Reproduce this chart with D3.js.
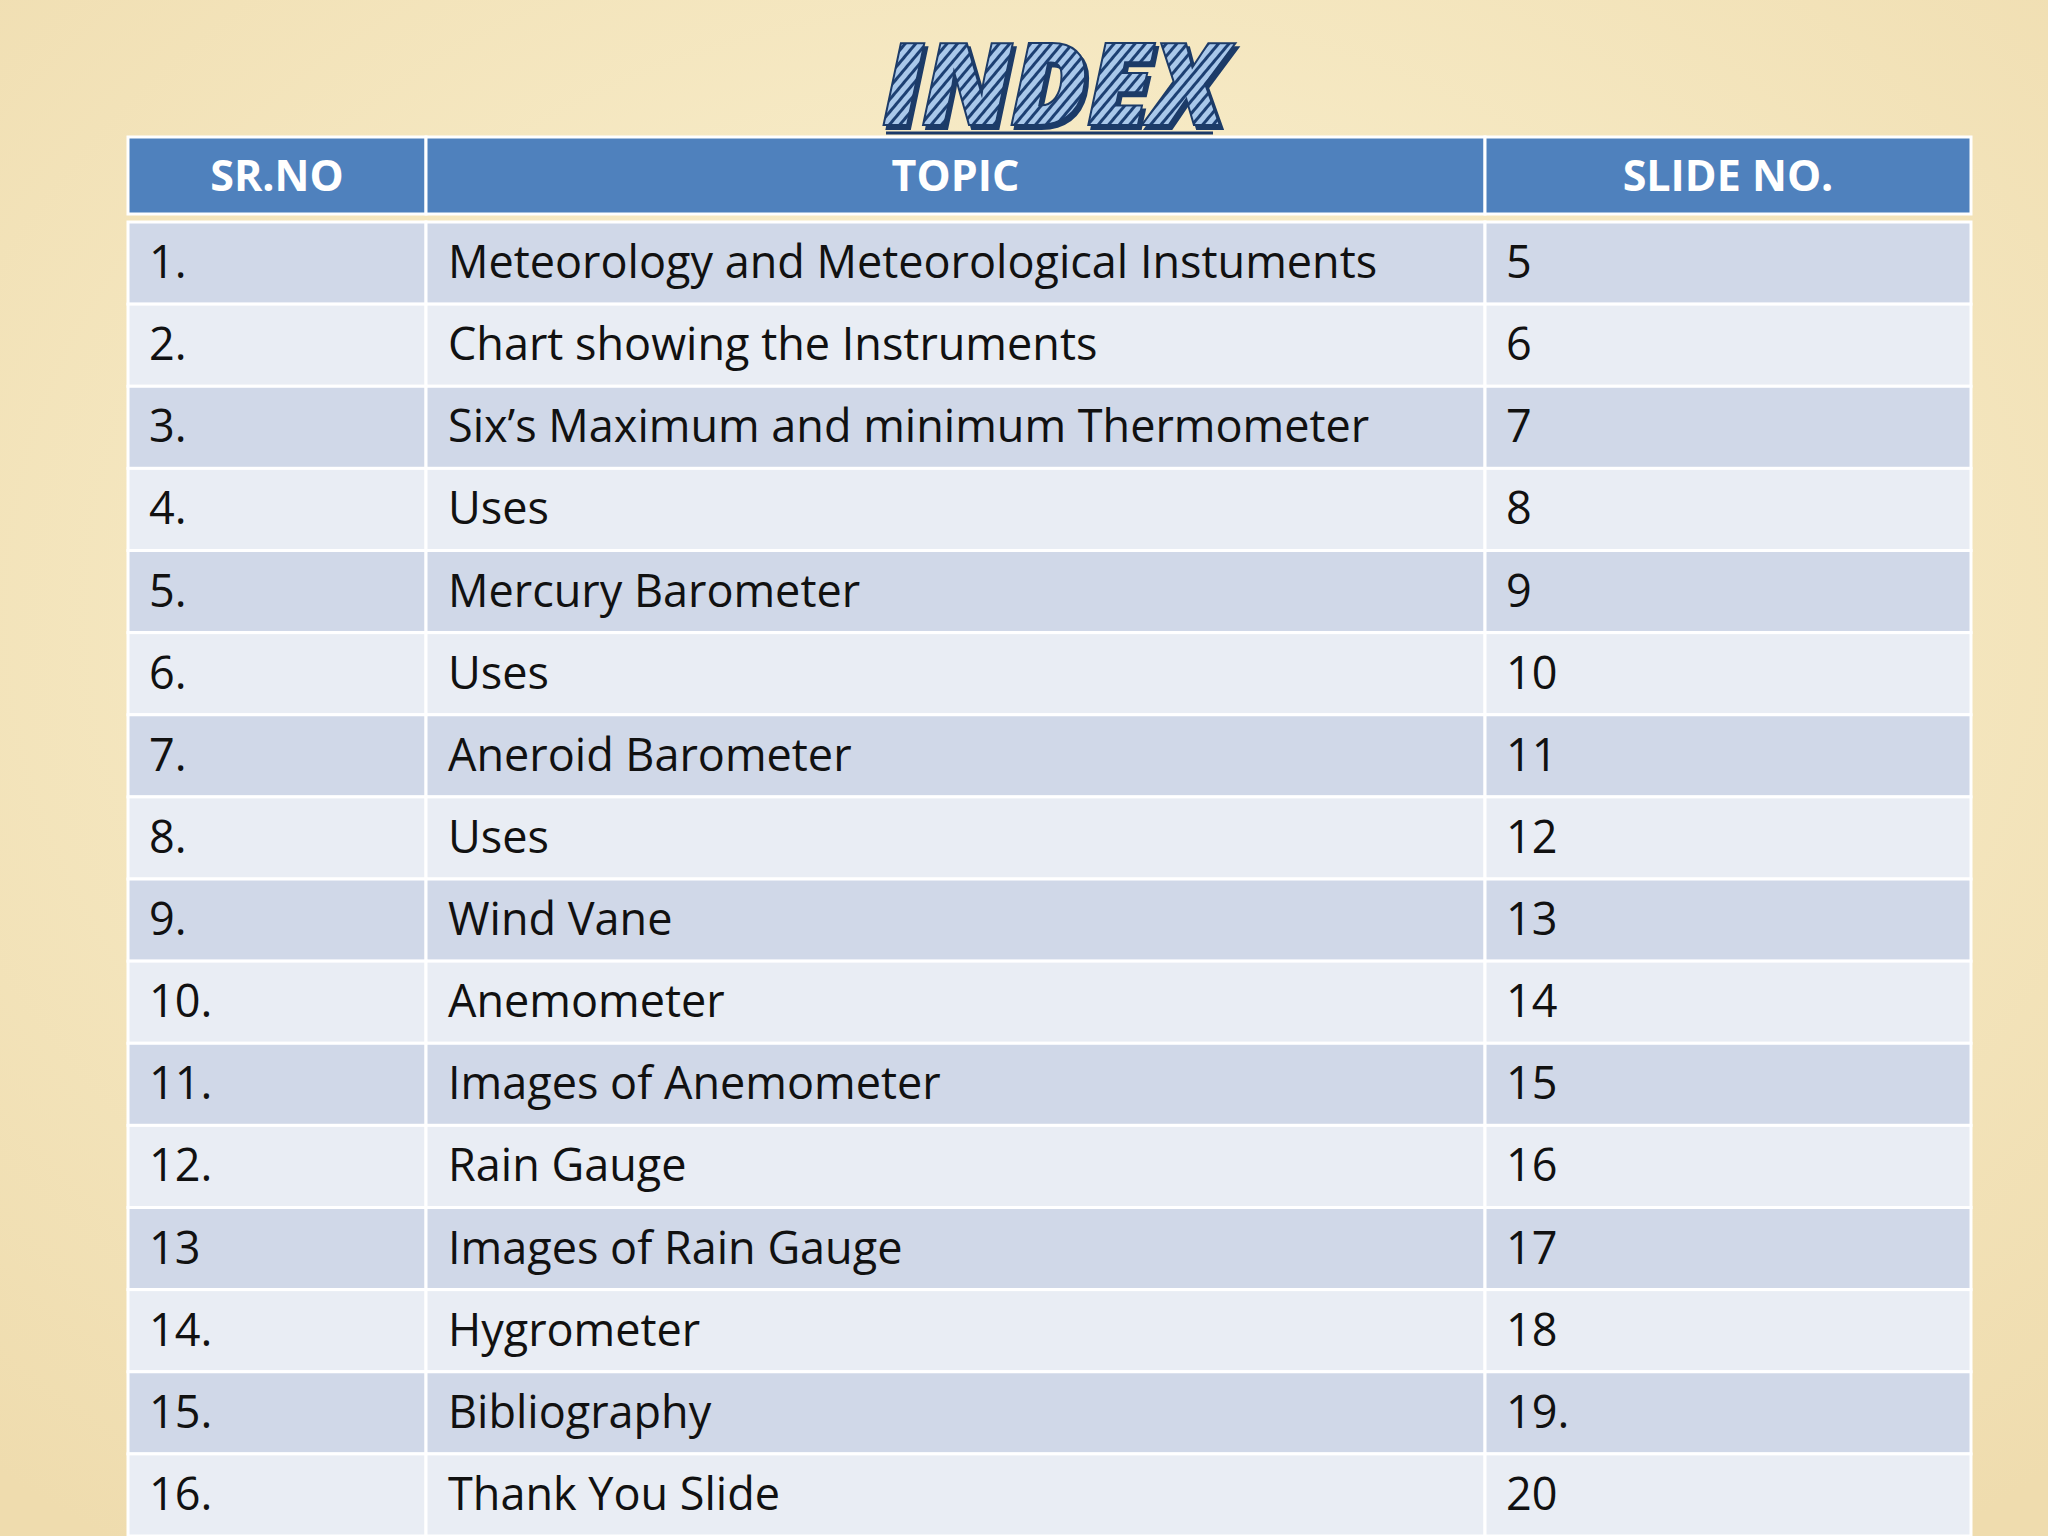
<!DOCTYPE html><html><head><meta charset="utf-8"><script src="https://cdn.jsdelivr.net/npm/d3@7"></script>
<style>body{margin:0;overflow:hidden}svg{display:block}</style></head><body><svg id="c" width="2048" height="1536"></svg>
<script>
const headers=["SR.NO","TOPIC","SLIDE NO."];
const srNo=["1.","2.","3.","4.","5.","6.","7.","8.","9.","10.","11.","12.","13","14.","15.","16."];
const topics=["Meteorology and Meteorological Instuments","Chart showing the Instruments","Six’s Maximum and minimum Thermometer","Uses","Mercury Barometer","Uses","Aneroid Barometer","Uses","Wind Vane","Anemometer","Images of Anemometer","Rain Gauge","Images of Rain Gauge","Hygrometer","Bibliography","Thank You Slide"];
const slideNo=["5","6","7","8","9","10","11","12","13","14","15","16","17","18","19.","20"];
const title="INDEX";

const svg=d3.select("#c");
const defs=svg.append("defs");
const bg=defs.append("radialGradient").attr("id","bg").attr("cx","50%").attr("cy","40%").attr("r","75%");
bg.append("stop").attr("offset","0%").attr("stop-color","#fbf3d4");
bg.append("stop").attr("offset","100%").attr("stop-color","#efdcae");
const pat=defs.append("pattern").attr("id","hatch").attr("width",8).attr("height",8).attr("patternUnits","userSpaceOnUse").attr("patternTransform","rotate(-50)");
pat.append("rect").attr("width",8).attr("height",8).attr("fill","#a9c8ea");
pat.append("rect").attr("width",8).attr("height",3).attr("fill","#1f3f73");
const f=defs.append("filter").attr("id","sh").attr("x","-10%").attr("y","-10%").attr("width","130%").attr("height","130%");
f.append("feDropShadow").attr("dx",3).attr("dy",4).attr("stdDeviation",0.5).attr("flood-color","#1c3a68");
svg.append("rect").attr("width",2048).attr("height",1536).attr("fill","url(#bg)");

const colL=[128,426,1485], colR=[426,1485,1971];
const y=d3.scaleBand().domain(d3.range(16)).range([222,1536]);

const tg=svg.append("g");
tg.append("text").attr("x",1054).attr("y",124).attr("text-anchor","middle").attr("filter","url(#sh)")
 .attr("font-family","Open Sans").attr("font-weight",800).attr("font-style","italic").attr("font-size",112)
 .attr("fill","url(#hatch)").attr("stroke","#1c3a68").attr("stroke-width",4).attr("paint-order","stroke").text(title);
tg.append("line").attr("x1",886).attr("x2",1213).attr("y1",133).attr("y2",133).attr("stroke","#1c3a68").attr("stroke-width",3);

const hg=svg.append("g");
headers.forEach((h,i)=>{
 hg.append("rect").attr("x",colL[i]).attr("y",137).attr("width",colR[i]-colL[i]).attr("height",77).attr("fill","#4f81bd").attr("stroke","#fff").attr("stroke-width",3);
 hg.append("text").attr("x",(colL[i]+colR[i])/2).attr("y",191).attr("text-anchor","middle").attr("font-family","Open Sans").attr("font-weight",700).attr("font-size",43).attr("fill","#fff").text(h);
});
const cols=[srNo,topics,slideNo];
const tx=[149,448,1506];
const rg=svg.append("g");
d3.range(16).forEach(r=>{
 cols.forEach((c,i)=>{
  rg.append("rect").attr("x",colL[i]).attr("y",y(r)).attr("width",colR[i]-colL[i]).attr("height",y.bandwidth())
   .attr("fill",r%2==0?"#d0d8e8":"#e9edf4").attr("stroke","#fff").attr("stroke-width",3);
  rg.append("text").attr("x",tx[i]).attr("y",y(r)+y.bandwidth()/2+15).attr("font-family","Open Sans").attr("font-size",45).attr("fill","#111").text(c[r]);
 });
});
</script></body></html>
